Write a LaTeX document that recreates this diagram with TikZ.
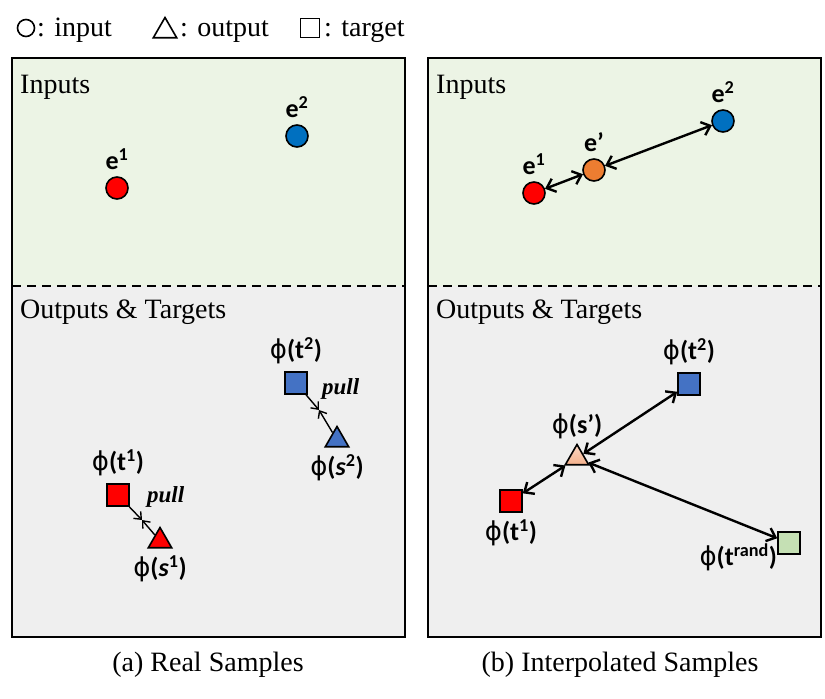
\documentclass[tikz,border=0pt]{standalone}
\usepackage{fontspec}
\setmainfont{Liberation Serif}
\setsansfont{Carlito}
\newfontfamily\phifont{DejaVu Sans}
\usetikzlibrary{positioning, arrows.meta, shapes.geometric}
\definecolor{inputbg}{RGB}{236,244,229}
\definecolor{outputbg}{RGB}{239,239,239}
\definecolor{redcol}{RGB}{255,0,0}
\definecolor{bluecol}{RGB}{68,114,196}
\definecolor{circblue}{RGB}{0,112,192}
\definecolor{orangecol}{RGB}{237,125,49}
\definecolor{salmontop}{RGB}{252,215,195}
\definecolor{salmoncol}{RGB}{244,177,140}
\definecolor{randcol}{RGB}{197,224,180}
\newcommand{\phisym}{{\phifont\mdseries\char"03D5}}

\begin{document}
\begin{tikzpicture}[
	x=1pt, y=-1pt,
	txt/.style={font=\fontsize{28}{32}\selectfont, inner sep=0pt},
	lab/.style={font=\fontsize{26}{30}\selectfont\sffamily\bfseries, inner sep=0pt},
	pullsty/.style={font=\fontsize{23}{26}\selectfont\bfseries\itshape, inner sep=0pt},
	inp/.style={circle, draw, line width=1.6pt, minimum size=22pt, inner sep=0pt},
	tgt/.style={rectangle, draw, line width=1.6pt, minimum size=22pt, inner sep=0pt},
	outp/.style={regular polygon, regular polygon sides=3, draw, line width=1.6pt, minimum size=27pt, inner sep=0pt},
	pullarr/.style={-{Straight Barb[length=6pt,width=10pt]}, line width=1.4pt},
	link/.style={{Straight Barb[length=8pt,width=14pt]}-{Straight Barb[length=8pt,width=14pt]}, line width=2.4pt}
	]
	\useasboundingbox (0,0) rectangle (825,699);
	
	% Legend
	\node[inp, minimum size=17pt, line width=1.6pt] (lgin) at (26,28) {};
	\node[txt, anchor=base west] (lgintxt) at (37,36) {: input};
	\node[outp, minimum size=27pt, line width=1.6pt] (lgout) at (165,31) {};
	\node[txt, anchor=base west] (lgouttxt) at (180,36) {: output};
	\node[tgt, minimum size=19pt, line width=1.6pt] (lgtgt) at (310,28) {};
	\node[txt, anchor=base west] (lgtgttxt) at (324,36) {: target};
	
	% Panels
	\foreach \p/\x in {A/12, B/428} {
		\fill[inputbg] (\x,58) rectangle ++(393,228);
		\fill[outputbg] (\x,286) rectangle ++(393,351);
		\draw[line width=2.2pt, dash pattern=on 9pt off 6pt] (\x,286) -- ++(393,0);
		\draw[line width=2.8pt] (\x,58) rectangle ++(393,579);
		\node[txt, anchor=base west] (in\p) at (\x+8,93) {Inputs};
		\node[txt, anchor=base west] (out\p) at (\x+8,318) {Outputs \& Targets};
	}
	\node[txt] (capA) at (208,665) {(a) Real Samples};
	\node[txt] (capB) at (620,665) {(b) Interpolated Samples};
	
	% (a) inputs
	\node[inp, fill=redcol] (e1a) at (117,188) {};
	\node[lab, above=6pt of e1a] (e1alab) {e\textsuperscript{1}};
	\node[inp, fill=circblue] (e2a) at (297,136) {};
	\node[lab, above=6pt of e2a] (e2alab) {e\textsuperscript{2}};
	
	% (a) outputs and targets
	\node[tgt, fill=bluecol] (t2a) at (296,383) {};
	\node[lab, above=7pt of t2a] (t2alab) {\phisym(t\textsuperscript{2})};
	\node[outp, fill=bluecol] (s2a) at (337,440) {};
	\node[lab, below=7pt of s2a] (s2alab) {\phisym(\textit{s}\textsuperscript{2})};
	\coordinate (m2a) at (319,410);
	\draw[pullarr] (t2a) -- (m2a);
	\draw[pullarr] (s2a) -- (m2a);
	\node[pullsty, above right=10pt and 3pt of m2a] (pull2) {pull};
	
	\node[tgt, fill=redcol] (t1a) at (118,495) {};
	\node[lab, above=7pt of t1a] (t1alab) {\phisym(t\textsuperscript{1})};
	\node[outp, fill=redcol] (s1a) at (160,541) {};
	\node[lab, below=7pt of s1a] (s1alab) {\phisym(\textit{s}\textsuperscript{1})};
	\coordinate (m1a) at (142,520);
	\draw[pullarr] (t1a) -- (m1a);
	\draw[pullarr] (s1a) -- (m1a);
	\node[pullsty, above right=12pt and 5pt of m1a] (pull1) {pull};
	
	% (b) inputs
	\node[inp, fill=redcol] (e1b) at (534,193) {};
	\node[lab, above=6pt of e1b] (e1blab) {e\textsuperscript{1}};
	\node[inp, fill=orangecol] (epb) at (594,170) {};
	\node[lab, above=6pt of epb] (epblab) {e'};
	\node[inp, fill=circblue] (e2b) at (723,121) {};
	\node[lab, above=6pt of e2b] (e2blab) {e\textsuperscript{2}};
	\draw[link] (e1b) -- (epb);
	\draw[link] (epb) -- (e2b);
	
	% (b) outputs and targets
	\node[outp, top color=salmontop, bottom color=salmoncol] (sb) at (577,458) {};
	\node[lab, above=4pt of sb] (sblab) {\phisym(s')};
	\node[tgt, fill=bluecol] (t2b) at (689,384) {};
	\node[lab, above=7pt of t2b] (t2blab) {\phisym(t\textsuperscript{2})};
	\node[tgt, fill=redcol] (t1b) at (511,501) {};
	\node[lab, below=7pt of t1b] (t1blab) {\phisym(t\textsuperscript{1})};
	\node[tgt, fill=randcol] (trb) at (789,543) {};
	\node[lab, anchor=east] (trblab) at ([yshift=-14pt]trb.west) {\phisym(t\textsuperscript{rand})};
	\draw[link] (sb) -- (t2b);
	\draw[link] (sb) -- (t1b);
	\draw[link] (sb) -- (trb);
\end{tikzpicture}
\end{document}
